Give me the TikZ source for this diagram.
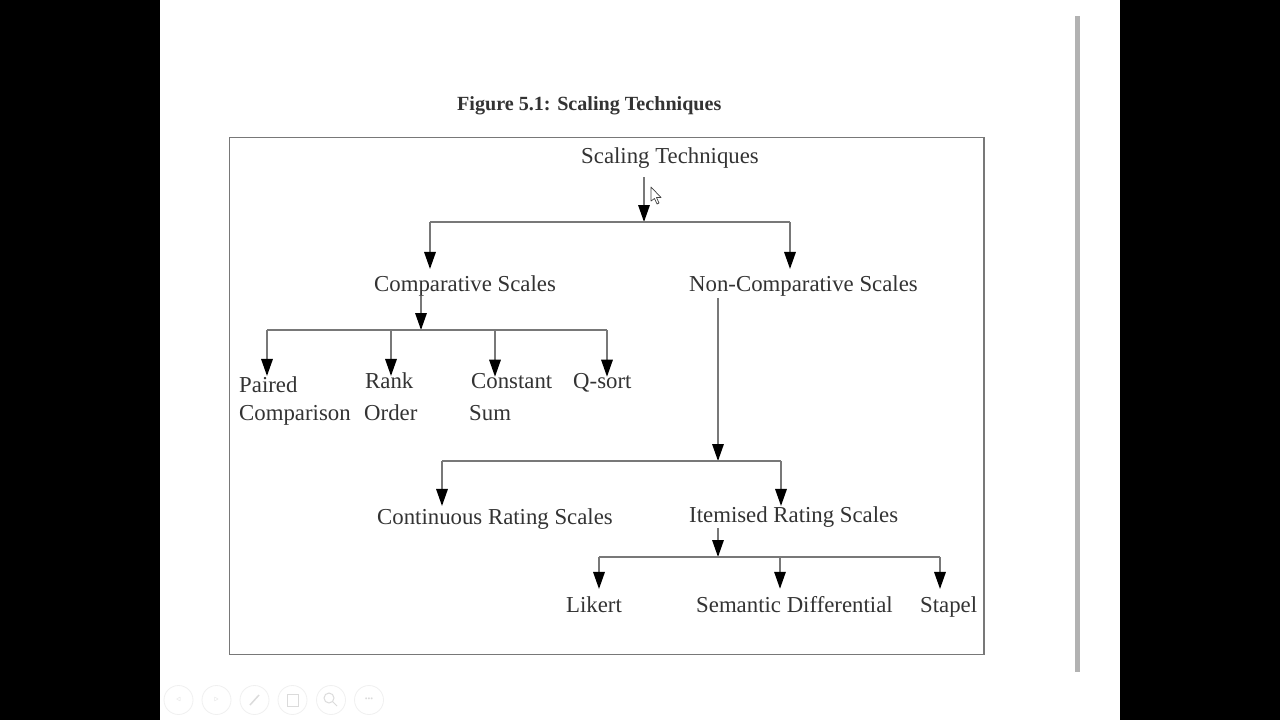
\documentclass[tikz,border=0pt]{standalone}
\usepackage{fontspec}
\setmainfont{Liberation Serif}
\usetikzlibrary{arrows.meta}
\definecolor{linegray}{gray}{0.47}
\definecolor{txtgray}{gray}{0.2}
\tikzset{
  x=1pt,y=-1pt,
  lbl/.style={inner sep=0pt,anchor=base west,text=txtgray,font=\fontsize{22.8}{24}\selectfont},
  wire/.style={draw=linegray,line width=1.6pt},
  arr/.style={wire,-{Triangle[length=17pt,width=11.5pt,color=black]}},
  pad/.style={circle,draw=black!6,line width=0.8pt,minimum size=29pt,inner sep=0pt,text=black!14,font=\fontsize{8}{8}\selectfont},
}
\begin{document}
\begin{tikzpicture}
\useasboundingbox (0,0) rectangle (1280,720);
\fill[black] (0,0) rectangle (1280,720);
\fill[white] (160,0) rectangle (1120,720);
\fill[black!30] (1075,16) rectangle (1080,672);
\node[inner sep=0pt,anchor=base west,text=black!80,font=\bfseries\fontsize{20.1}{22}\selectfont] (title) at (457,110) {Figure 5.1: Scaling Techniques};
\draw[draw=linegray,line width=1.7pt] (229.5,137.5) rectangle (984,654.5);
% labels
\node[lbl] (root) at (581,163) {Scaling Techniques};
\node[lbl] (comp) at (374,291) {Comparative Scales};
\node[lbl] (non) at (689,291) {Non-Comparative Scales};
\node[lbl] (paired1) at (239,392) {Paired};
\node[lbl] (paired2) at (239,420) {Comparison};
\node[lbl] (rank1) at (365,388) {Rank};
\node[lbl] (rank2) at (364,420) {Order};
\node[lbl] (const1) at (471,388) {Constant};
\node[lbl] (const2) at (469,420) {Sum};
\node[lbl] (qsort) at (573,388) {Q-sort};
\node[lbl] (cont) at (377,524) {Continuous Rating Scales};
\node[lbl] (item) at (689,522) {Itemised Rating Scales};
\node[lbl] (lik) at (566,612) {Likert};
\node[lbl] (sem) at (696,612) {Semantic Differential};
\node[lbl] (sta) at (920,612) {Stapel};
% junctions
\coordinate (j1) at (644,222);
\coordinate (j1a) at (430,222);
\coordinate (j1b) at (790,222);
\coordinate (j2) at (421,330);
\coordinate (j2a) at (267,330);
\coordinate (j2b) at (391,330);
\coordinate (j2c) at (495,330);
\coordinate (j2d) at (607,330);
\coordinate (j3) at (718,461);
\coordinate (j3a) at (442,461);
\coordinate (j3b) at (781,461);
\coordinate (j4) at (718,557);
\coordinate (j4a) at (599,557);
\coordinate (j4b) at (780,557);
\coordinate (j4c) at (940,557);
% connectors
\draw[arr,shorten <=9pt] (root.south -| j1) -- (j1);
\draw[wire] (j1a) -- (j1b);
\draw[arr,shorten >=6pt] (j1a) -- (j1a |- comp.north);
\draw[arr,shorten >=6pt] (j1b) -- (j1b |- non.north);
\draw[arr] (comp.south -| j2) -- (j2);
\draw[wire] (j2a) -- (j2d);
\draw[arr] (j2a) -- (j2a |- paired1.north);
\draw[arr,shorten >=-4pt] (j2b) -- (j2b |- rank1.north);
\draw[arr,shorten >=-4pt] (j2c) -- (j2c |- const1.north);
\draw[arr,shorten >=-4pt] (j2d) -- (j2d |- qsort.north);
\draw[arr,shorten <=2pt] (non.south -| j3) -- (j3);
\draw[wire] (j3a) -- (j3b);
\draw[arr,shorten >=2pt] (j3a) -- (j3a |- cont.north);
\draw[arr] (j3b) -- (j3b |- item.north);
\draw[arr,shorten <=1pt] (item.south -| j4) -- (j4);
\draw[wire] (j4a) -- (j4c);
\draw[arr,shorten >=7pt] (j4a) -- (j4a |- lik.north);
\draw[arr,shorten >=7pt] (j4b) -- (j4b |- sem.north);
\draw[arr,shorten >=7pt] (j4c) -- (j4c |- sta.north);
% cursor
\draw[black!75,fill=white,line width=0.7pt,line join=round] (651,187) -- (651,201) -- (654.5,198.5) -- (657,204) -- (659,203) -- (656.5,197.5) -- (661,197.5) -- cycle;
% toolbar
\node[pad] (b1) at (178.5,700) {$\triangleleft$};
\node[pad] (b2) at (216.5,700) {$\triangleright$};
\node[pad] (b3) at (254.5,700) {};
\node[pad] (b4) at (292.5,700) {};
\node[pad] (b5) at (331,700) {};
\node[pad] (b6) at (369,700) {\textbullet\textbullet\textbullet};
\draw[black!14,line width=1.5pt] (250,705) -- (259,695);
\draw[black!14,line width=1pt] (287,694) rectangle (298,706);
\draw[black!14,line width=1pt] (329,698) circle (5) (333,702) -- (337,706);
\end{tikzpicture}
\end{document}
